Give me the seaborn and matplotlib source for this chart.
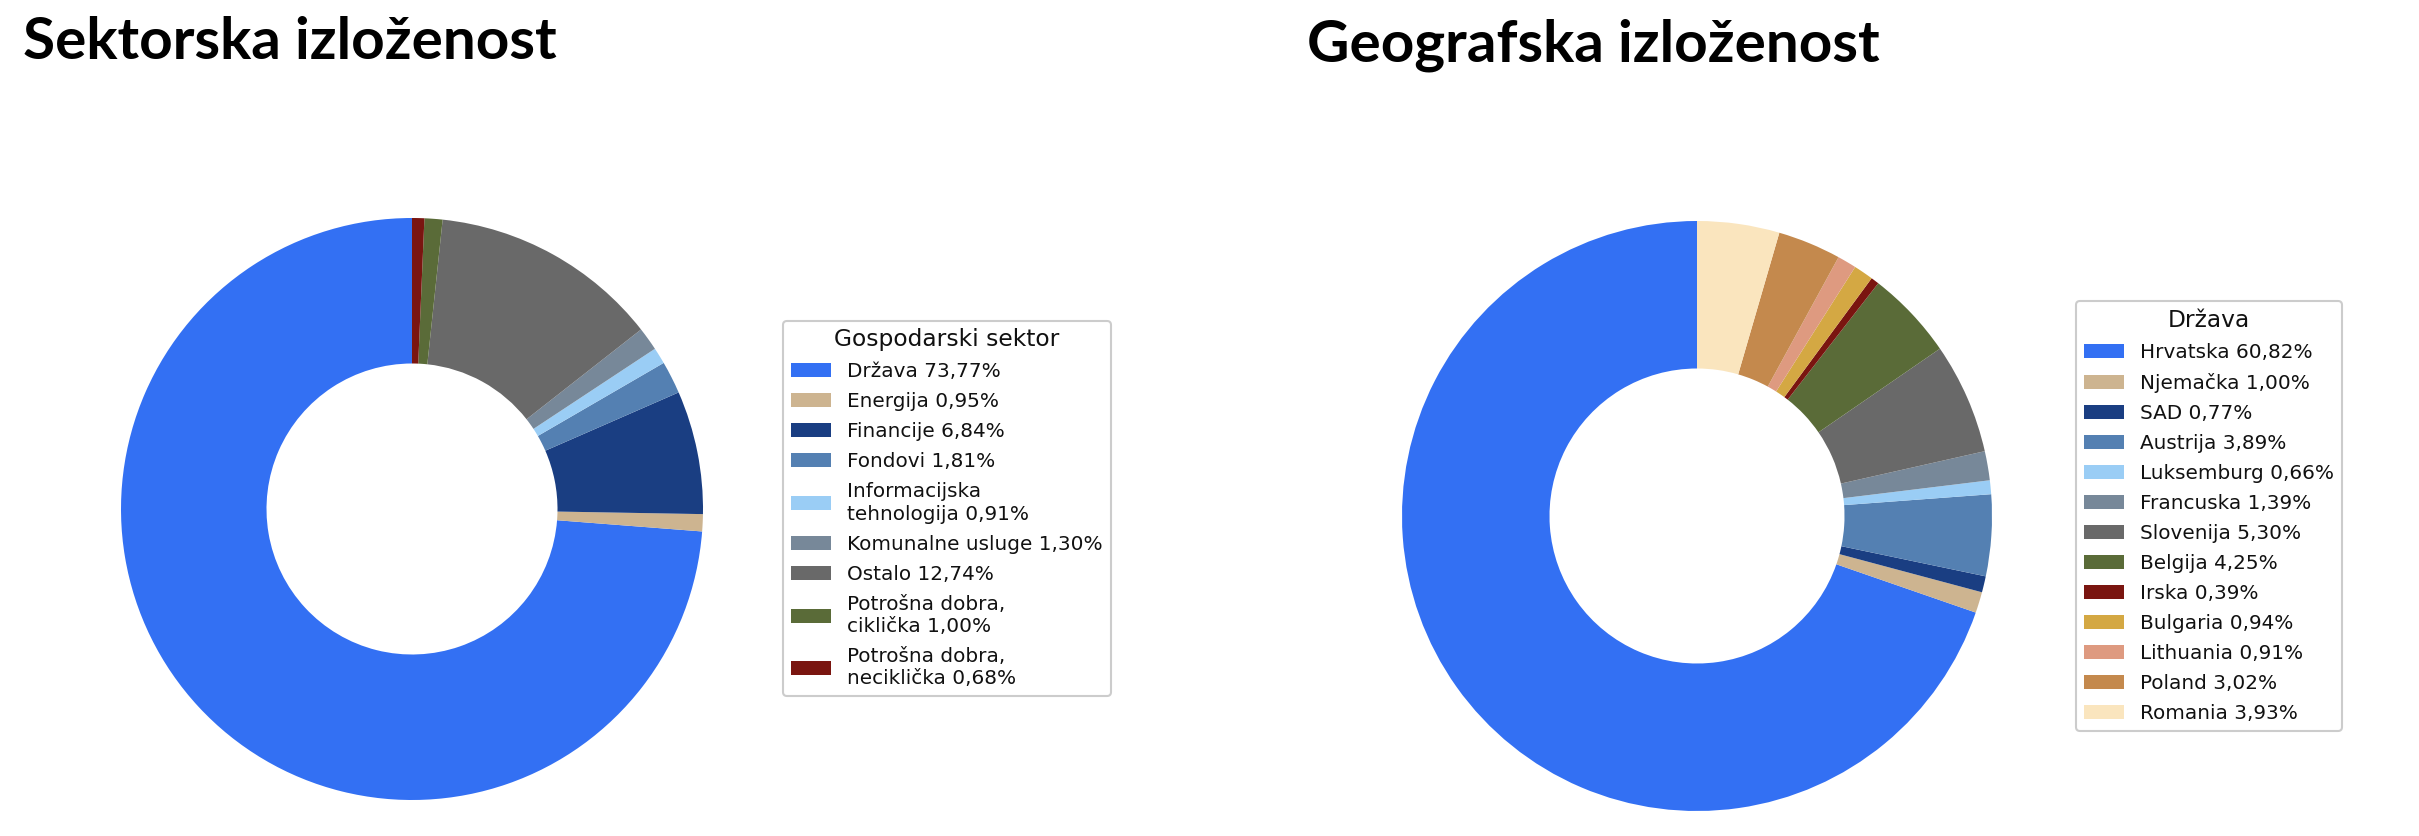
import matplotlib
matplotlib.use("Agg")
import matplotlib.pyplot as plt
import seaborn as sns

sns.set_theme(style="white")
plt.rcParams["font.family"] = ["DejaVu Sans"]
plt.rcParams["text.color"] = "black"

# Sektorska izloženost
sektor_labels = ["Država", "Energija", "Financije", "Fondovi",
                 "Informacijska\ntehnologija", "Komunalne usluge", "Ostalo",
                 "Potrošna dobra,\nciklička", "Potrošna dobra,\nneciklička"]
sektor_values = [73.77, 0.95, 6.84, 1.81, 0.91, 1.30, 12.74, 1.00, 0.68]
sektor_colors = ["#3370F3", "#CDB490", "#1A3E82", "#5480B2", "#9ACDF5",
                 "#778899", "#696969", "#5A6B38", "#7A1510"]

# Geografska izloženost
drzava_labels = ["Hrvatska", "Njemačka", "SAD", "Austrija", "Luksemburg",
                 "Francuska", "Slovenija", "Belgija", "Irska", "Bulgaria",
                 "Lithuania", "Poland", "Romania"]
drzava_values = [60.82, 1.00, 0.77, 3.89, 0.66, 1.39, 5.30, 4.25, 0.39,
                 0.94, 0.91, 3.02, 3.93]
drzava_colors = ["#3370F3", "#CDB490", "#1A3E82", "#5480B2", "#9ACDF5",
                 "#778899", "#696969", "#5A6B38", "#7A1510", "#D4A843",
                 "#DE9A80", "#C4894D", "#FAE5BE"]


def fmt(v):
    return f"{v:.2f}%".replace(".", ",")


W, H = 2419, 836
fig = plt.figure(figsize=(W / 100, H / 100), dpi=100)


def donut(cx, cy, r, values, colors, labels, title, leg_x, leg_y):
    ax = fig.add_axes([(cx - r) / W, (H - cy - r) / H, 2 * r / W, 2 * r / H])
    wedges, _ = ax.pie(values, colors=colors, startangle=90,
                       wedgeprops=dict(width=0.5, linewidth=0))
    ax.set_xlim(-1, 1)
    ax.set_ylim(-1, 1)
    ax.set_aspect("equal")
    ax.axis("off")
    leg = fig.legend(wedges, [f"{l} {fmt(v)}" for l, v in zip(labels, values)],
                     title=title, loc="center left",
                     bbox_to_anchor=(leg_x / W, 1 - leg_y / H),
                     bbox_transform=fig.transFigure, borderaxespad=0,
                     fontsize=14.4, title_fontsize=16.8, labelspacing=0.55,
                     frameon=True, edgecolor="0.8", framealpha=1.0,
                     fancybox=True, labelcolor="#111111")
    leg.get_frame().set_linewidth(1.5)
    leg.get_title().set_color("#111111")
    return ax


donut(412, 509, 291, sektor_values, sektor_colors, sektor_labels,
      "Gospodarski sektor", 783, 508)
donut(1697, 516, 295, drzava_values, drzava_colors, drzava_labels,
      "Država", 2076, 516)

fig.text(23 / W, 1 - 59 / H, "Sektorska izloženost", fontsize=42,
         fontweight="bold", family="Lato", va="baseline", ha="left",
         color="black")
fig.text(1307 / W, 1 - 61 / H, "Geografska izloženost", fontsize=42,
         fontweight="bold", family="Lato", va="baseline", ha="left",
         color="black")

fig.savefig("out.png", dpi=100, facecolor="white")
